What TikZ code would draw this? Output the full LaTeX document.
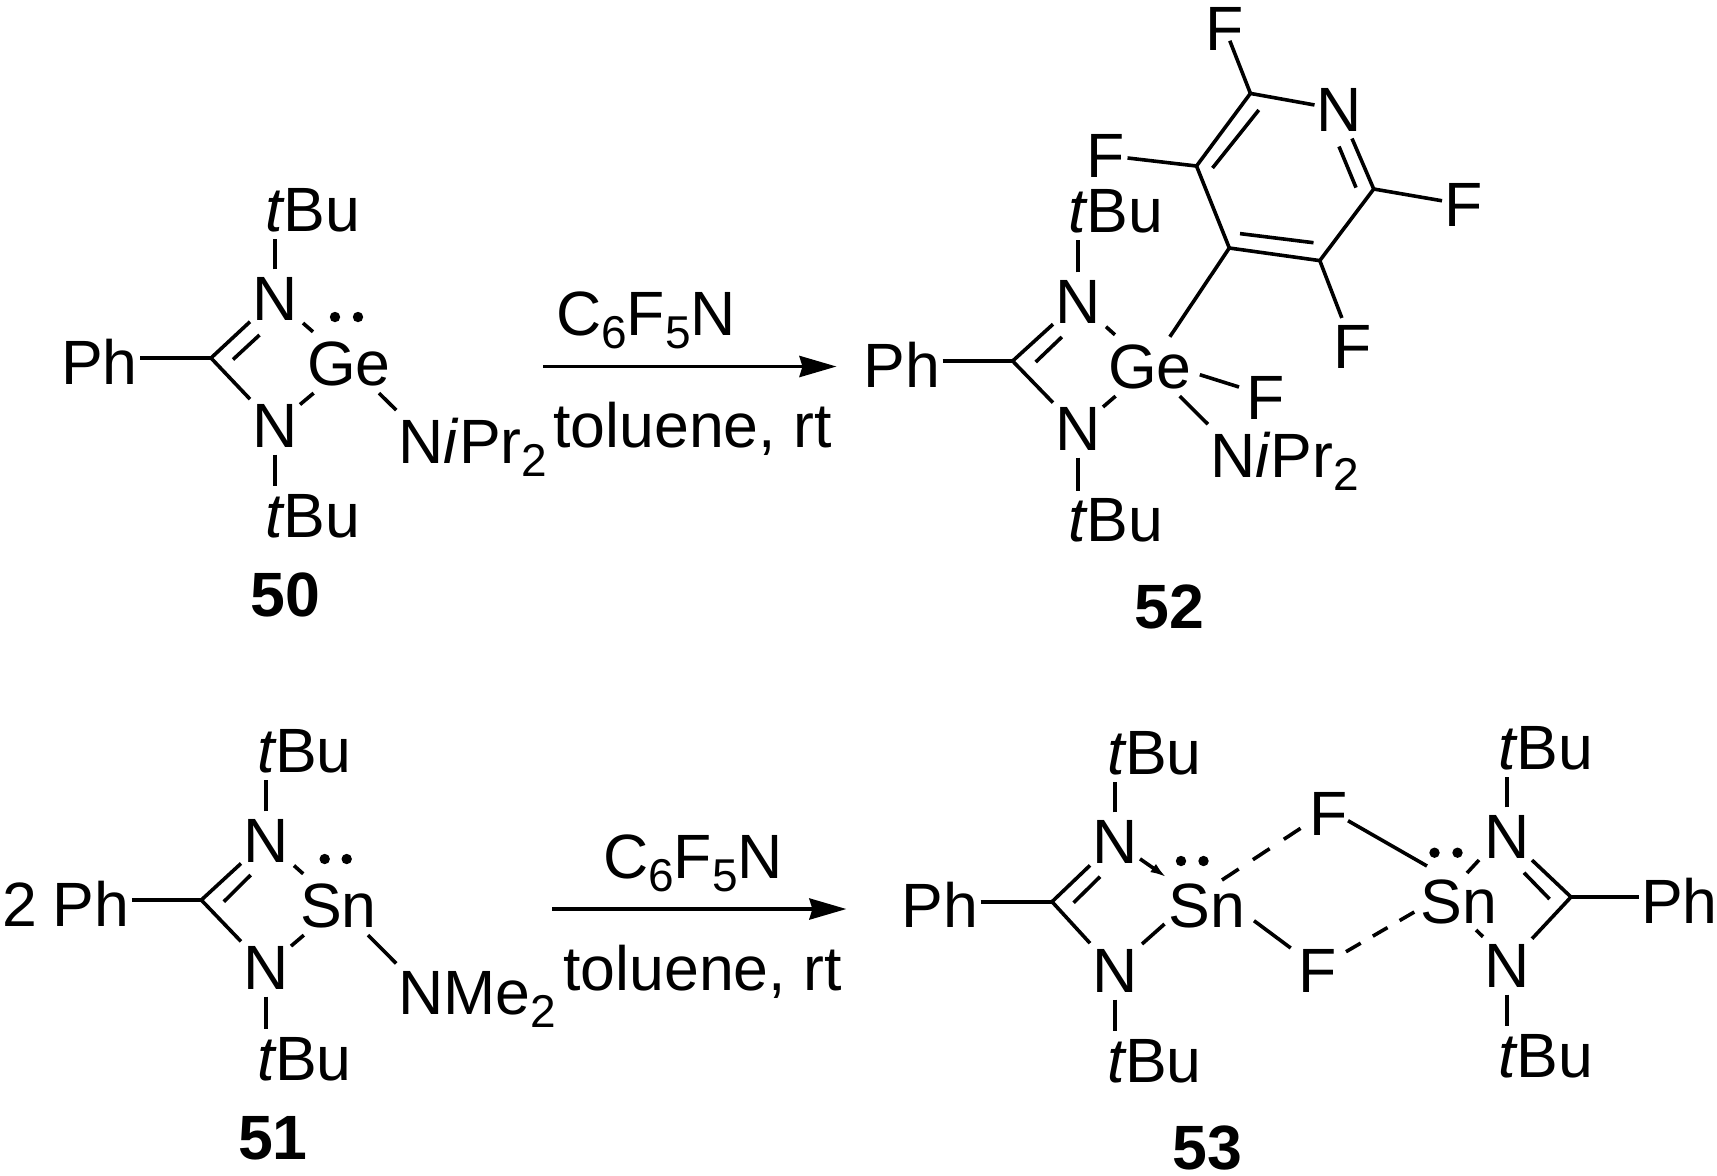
\documentclass[tikz,border=0pt]{standalone}
\usepackage{fontspec}
\setmainfont{Liberation Sans}
\usetikzlibrary{arrows.meta}
\newcommand{\sbs}[1]{\raisebox{-6.8pt}{\fontsize{23}{23}\selectfont #1}}
\newcommand{\tBuText}{\textit{t}\kern-1pt Bu}
\newcommand{\lab}[4]{\node[lab] (#1) at (#2,#3) {#4};}
\newcommand{\cmpd}[4]{\node[cmpd] (#1) at (#2,#3) {#4};}
\newcommand{\pair}[3]{\node[lonepair] (#1) at (#2,#3) {};}
\tikzset{
  lab/.style={anchor=base,inner xsep=1.2pt,inner ysep=3.75pt,outer sep=0pt,font=\fontsize{31.3}{36}\selectfont,text=black},
  cmpd/.style={anchor=base,inner sep=0pt,font=\fontsize{31.3}{36}\selectfont\bfseries,text=black},
  bond/.style={draw=black,line width=1.8pt},
  rxn/.style={draw=black,line width=1.9pt,-{Stealth[length=18.5pt,width=10.5pt,inset=1.5pt]}},
  dashbond/.style={bond,dash pattern=on 10pt off 8.5pt},
  dashbondb/.style={bond,dash pattern=on 8.5pt off 7pt},
  shortbond/.style={bond,shorten <=2pt,shorten >=1.5pt},
  lonepair/.style={circle,fill=black,inner sep=0pt,minimum size=5.2pt}
}
\begin{document}
\begin{tikzpicture}[x=0.5pt,y=-0.5pt]
\useasboundingbox[fill=white] (0,0) rectangle (1717,1175);

% ---------- 50 ----------
\lab{ta}{313}{231}{\tBuText}
\lab{na}{275}{320}{N}
\lab{ge}{349}{385}{Ge}
\lab{nb}{275}{447}{N}
\lab{tb}{313}{537}{\tBuText}
\lab{pha}{99.5}{384}{Ph}
\lab{npa}{473}{463}{N\textit{i}Pr\sbs{2}}
\cmpd{c50}{285.5}{616}{50}
\coordinate (ca) at (211,358);
\coordinate (cai) at (233,359.5);
\coordinate (caj) at (259.5,335);
\pair{da}{335}{317}
\pair{db}{358}{317}
\draw[bond] (na.north) -- (na.north |- ta.south);
\draw[bond] (nb.south) -- (nb.south |- tb.north);
\draw[bond] (pha.east |- ca) -- (ca);
\draw[bond] (ca) -- (na);
\draw[bond] (cai) -- (caj);
\draw[bond] (ca) -- (nb);
\draw[shortbond] (na) -- (ge);
\draw[bond] (nb) -- (ge);
\draw[bond] (ge) -- (npa.north west);

% arrow 1
\coordinate (ra) at (543,366.5);
\coordinate (rb) at (836.5,366.5);
\draw[rxn] (ra) -- (rb);
\lab{ca6}{646}{335}{C\sbs{6}F\sbs{5}N}
\lab{tola}{692.5}{447}{toluene, rt}

% ---------- 52 ----------
\lab{tc}{1116}{232}{\tBuText}
\lab{nc}{1078}{323}{N}
\lab{gf}{1150}{388}{Ge}
\lab{nd}{1078}{450}{N}
\lab{td}{1116}{541.5}{\tBuText}
\lab{phb}{902}{387}{Ph}
\lab{npb}{1284.6}{477}{N\textit{i}Pr\sbs{2}}
\lab{fg}{1266}{419}{F}
\cmpd{c52}{1169}{628.6}{52}
\coordinate (cb) at (1012.6,361);
\coordinate (cbi) at (1035.7,362);
\coordinate (cbj) at (1061.8,337);
\coordinate (gfa) at (1199.8,374.7);
\coordinate (fga) at (1239,387);
\draw[bond] (nc.north) -- (nc.north |- tc.south);
\draw[bond] (nd.south) -- (nd.south |- td.north);
\draw[bond] (phb.east |- cb) -- (cb);
\draw[bond] (cb) -- (nc);
\draw[bond] (cbi) -- (cbj);
\draw[bond] (cb) -- (nd);
\draw[shortbond] (nc) -- (gf);
\draw[bond] (nd) -- (gf);
\draw[bond] (gf) -- (npb.north west);
\draw[bond] (gfa) -- (fga);
% pyridine ring
\lab{fa}{1225}{50}{F}
\lab{nr}{1339.5}{131}{N}
\lab{fb}{1106}{177}{F}
\lab{fc}{1463.5}{226}{F}
\lab{fd}{1353}{368.5}{F}
\coordinate (pa) at (1250.4,93.4);
\coordinate (pb) at (1373.7,189);
\coordinate (pc) at (1319.8,260.6);
\coordinate (pd) at (1229.3,248);
\coordinate (pe) at (1196.5,166);
\coordinate (pi1) at (1339,146.5);
\coordinate (pi2) at (1356,187.6);
\coordinate (pi3) at (1240,233.6);
\coordinate (pi4) at (1313.5,242.7);
\coordinate (pi5) at (1212.5,168);
\coordinate (pi6) at (1258.8,110);
\draw[bond,shorten >=-9pt] (pa) -- (fa);
\draw[bond] (pa) -- (nr);
\draw[bond] (nr) -- (pb);
\draw[bond] (pi1) -- (pi2);
\draw[bond] (pb) -- (fc);
\draw[bond] (pb) -- (pc);
\draw[bond] (pc) -- (fd);
\draw[bond] (pc) -- (pd);
\draw[bond] (pi3) -- (pi4);
\draw[bond] (pd) -- (pe);
\draw[bond] (pe) -- (pa);
\draw[bond] (pi5) -- (pi6);
\draw[bond] (pe) -- (fb);
\draw[bond] (gf) -- (pd);

% ---------- 51 ----------
\lab{te}{304.5}{772}{\tBuText}
\lab{ne}{266}{862}{N}
\lab{sa}{338.5}{927}{Sn}
\lab{nf}{266}{989}{N}
\lab{tf}{304.5}{1080}{\tBuText}
\lab{phc}{66}{926}{2\kern-1pt{} Ph}
\lab{nma}{477.5}{1014}{NMe\sbs{2}}
\cmpd{c51}{273}{1159}{51}
\coordinate (cc) at (201.3,900);
\coordinate (cci) at (223.8,901.7);
\coordinate (ccj) at (250.7,875);
\pair{dc}{324.7}{859}
\pair{dd}{346.7}{859}
\draw[bond] (ne.north) -- (ne.north |- te.south);
\draw[bond] (nf.south) -- (nf.south |- tf.north);
\draw[bond] (phc.east |- cc) -- (cc);
\draw[bond] (cc) -- (ne);
\draw[bond] (cci) -- (ccj);
\draw[bond] (cc) -- (nf);
\draw[shortbond] (ne) -- (sa);
\draw[bond] (nf) -- (sa);
\draw[bond] (sa) -- (nma.north west);

% arrow 2
\coordinate (rc) at (552.4,909);
\coordinate (rd) at (846.4,909);
\draw[rxn] (rc) -- (rd);
\lab{cb6}{693}{878}{C\sbs{6}F\sbs{5}N}
\lab{tolb}{702.5}{990}{toluene, rt}

% ---------- 53 ----------
\lab{tg}{1154.5}{774}{\tBuText}
\lab{ng}{1115}{863}{N}
\lab{sb}{1207}{927}{Sn}
\lab{nh}{1115}{992}{N}
\lab{th}{1154.5}{1082}{\tBuText}
\lab{phd}{940}{927}{Ph}
\lab{ft}{1329}{835}{F}
\lab{fl}{1318}{992}{F}
\lab{sc}{1459}{923}{Sn}
\lab{ni}{1507}{858}{N}
\lab{nj}{1507}{987}{N}
\lab{ti}{1546}{769}{\tBuText}
\lab{tj}{1546}{1077}{\tBuText}
\lab{phe}{1679.3}{923}{Ph}
\cmpd{c53}{1207}{1169}{53}
\coordinate (cd) at (1052,901.7);
\coordinate (cdi) at (1073.6,902.7);
\coordinate (cdj) at (1100,876.7);
\coordinate (ce) at (1571,897);
\coordinate (cei) at (1549.5,899);
\coordinate (cej) at (1524,872.7);
\pair{de}{1181}{861}
\pair{df}{1203.5}{861}
\pair{dg}{1434.5}{852.7}
\pair{dh}{1457.5}{852.7}
\coordinate (sba) at (1222,880);
\coordinate (fta) at (1301,828);
\coordinate (ftb) at (1348,820.7);
\coordinate (sca) at (1427,866);
\coordinate (sbb) at (1254,920.7);
\coordinate (flb) at (1290.7,948);
\coordinate (fla) at (1346,951.7);
\coordinate (scb) at (1414.8,911.7);
\coordinate (nia) at (1479,860);
\coordinate (scc) at (1467,873);
\coordinate (njb) at (1483,936.7);
\coordinate (scd) at (1476,930);
\coordinate (nha) at (1142,944);
\coordinate (sbc) at (1164.5,924);
\draw[bond] (ng.north) -- (ng.north |- tg.south);
\draw[bond] (nh.south) -- (nh.south |- th.north);
\draw[bond] (phd.east |- cd) -- (cd);
\draw[bond] (cd) -- (ng);
\draw[bond] (cdi) -- (cdj);
\draw[bond] (cd) -- (nh);
\draw[bond,-{Latex[length=8pt,width=5pt]}] (ng) -- (sb);
\draw[bond] (nha) -- (sbc);
\draw[dashbond] (sba) -- (fta);
\draw[bond] (ftb) -- (sca);
\draw[bond] (sbb) -- (flb);
\draw[dashbondb] (fla) -- (scb);
\draw[bond] (ni.north) -- (ni.north |- ti.south);
\draw[bond] (nj.south) -- (nj.south |- tj.north);
\draw[bond] (ce) -- (phe.west |- ce);
\draw[bond] (ce) -- (ni);
\draw[bond] (cei) -- (cej);
\draw[bond] (ce) -- (nj);
\draw[bond] (nia) -- (scc);
\draw[bond] (njb) -- (scd);
\end{tikzpicture}
\end{document}
